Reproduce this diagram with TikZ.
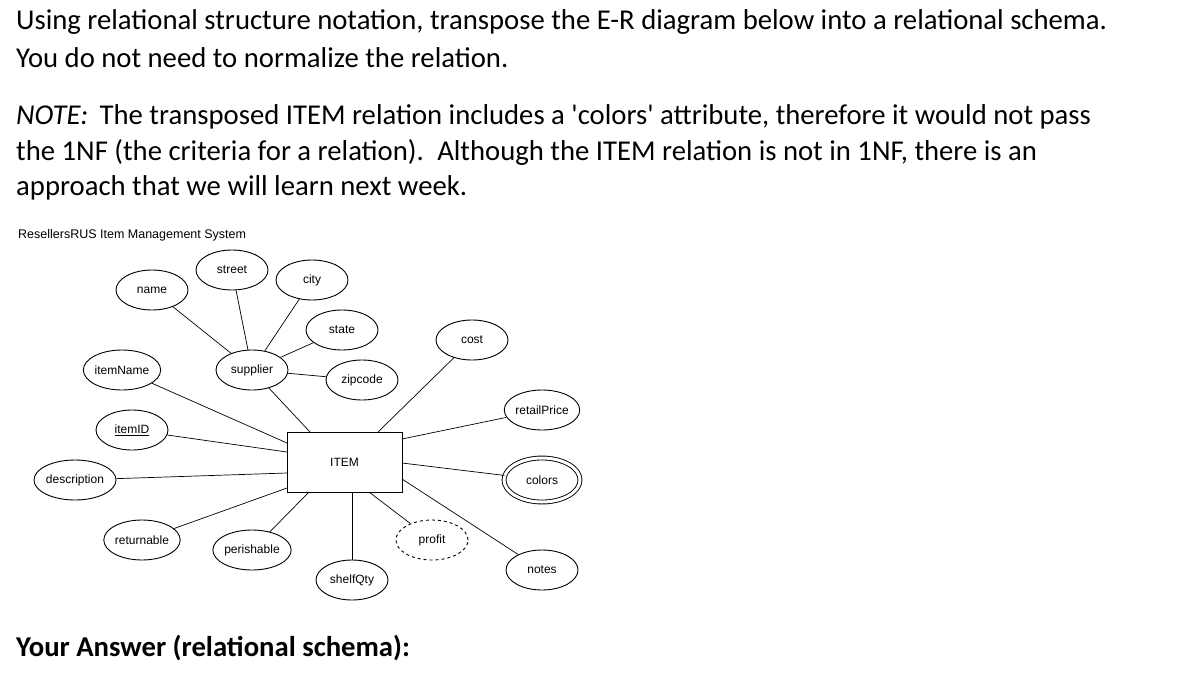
\documentclass[tikz,border=0pt]{standalone}
\usepackage{fontspec}
\usetikzlibrary{shapes.geometric}
\setmainfont{Carlito}
\newfontfamily\arial{Liberation Sans}
\begin{document}
\begin{tikzpicture}[x=1pt,y=-1pt,
  attr/.style={draw,line width=0.9pt,ellipse,minimum width=72pt,minimum height=40pt,inner sep=0pt,font=\arial\fontsize{12}{14}\selectfont},
  txt/.style={anchor=west,inner sep=0pt,font=\fontsize{28.7}{32}\selectfont},
  conn/.style={draw,line width=0.7pt}]
\useasboundingbox (0,0) rectangle (1188,699);
\node[txt] (t1) at (16,22) {Using relational structure notation, transpose the E-R diagram below into a relational schema.};
\node[txt] (t2) at (16,58) {You do not need to normalize the relation.};
\node[txt] (t3) at (16,117) {\textit{NOTE:}\, The transposed ITEM relation includes a \textquotesingle colors\textquotesingle{} attribute, therefore it would not pass};
\node[txt] (t4) at (16,152) {the 1NF (the criteria for a relation).\, Although the ITEM relation is not in 1NF, there is an};
\node[txt] (t5) at (16,188) {approach that we will learn next week.};
\node[txt,font=\bfseries\fontsize{28.7}{32}\selectfont] (t6) at (16,648) {Your Answer (relational schema):};
\node[anchor=west,inner sep=0pt,font=\arial\fontsize{12.5}{14}\selectfont] (title) at (18,235) {ResellersRUS Item Management System};

\node[draw,line width=0.9pt,minimum width=115pt,minimum height=60pt,inner sep=0pt,font=\arial\fontsize{12}{14}\selectfont] (item) at (344.5,462) {ITEM};
\node[attr] (name) at (152,290) {name};
\node[attr] (street) at (232,270) {street};
\node[attr] (city) at (312,280) {city};
\node[attr] (state) at (342,330) {state};
\node[attr] (supplier) at (252,370) {supplier};
\node[attr] (zip) at (362,380) {zipcode};
\node[attr] (cost) at (472,340) {cost};
\node[attr] (itemName) at (122,370) {itemName};
\node[attr] (itemID) at (132,430) {\underline{itemID}};
\node[attr] (desc) at (75,480) {description};
\node[attr] (retail) at (542,410) {retailPrice};
\node[attr,double,double distance=3pt,minimum width=76pt,minimum height=44pt] (colors) at (542,480) {colors};
\node[attr] (ret) at (142,540) {returnable};
\node[attr] (per) at (252,550) {perishable};
\node[attr] (shelf) at (352,580) {shelfQty};
\node[attr,dashed] (profit) at (432,540) {profit};
\node[attr] (notes) at (542,570) {notes};

\coordinate (pSup) at (310,432);
\coordinate (pCost) at (378,432);
\coordinate (pIN) at (287,443);
\coordinate (pID) at (287,452);
\coordinate (pDesc) at (287,473);
\coordinate (pRet) at (287,488);
\coordinate (pPer) at (309,492);
\coordinate (pShelf) at (352,492);
\coordinate (pProf) at (369,492);
\coordinate (pNotes) at (402,479);
\coordinate (pCol) at (402,463);
\coordinate (pRP) at (402,439);

\foreach \a in {name,street,city,state,zip} \draw[conn] (supplier) -- (\a);
\draw[conn] (supplier) -- (pSup);
\draw[conn] (cost) -- (pCost);
\draw[conn] (itemName) -- (pIN);
\draw[conn] (itemID) -- (pID);
\draw[conn] (desc) -- (pDesc);
\draw[conn] (ret) -- (pRet);
\draw[conn] (per) -- (pPer);
\draw[conn] (shelf) -- (pShelf);
\draw[conn] (profit) -- (pProf);
\draw[conn] (notes) -- (pNotes);
\draw[conn] (colors) -- (pCol);
\draw[conn] (retail) -- (pRP);
\end{tikzpicture}
\end{document}
